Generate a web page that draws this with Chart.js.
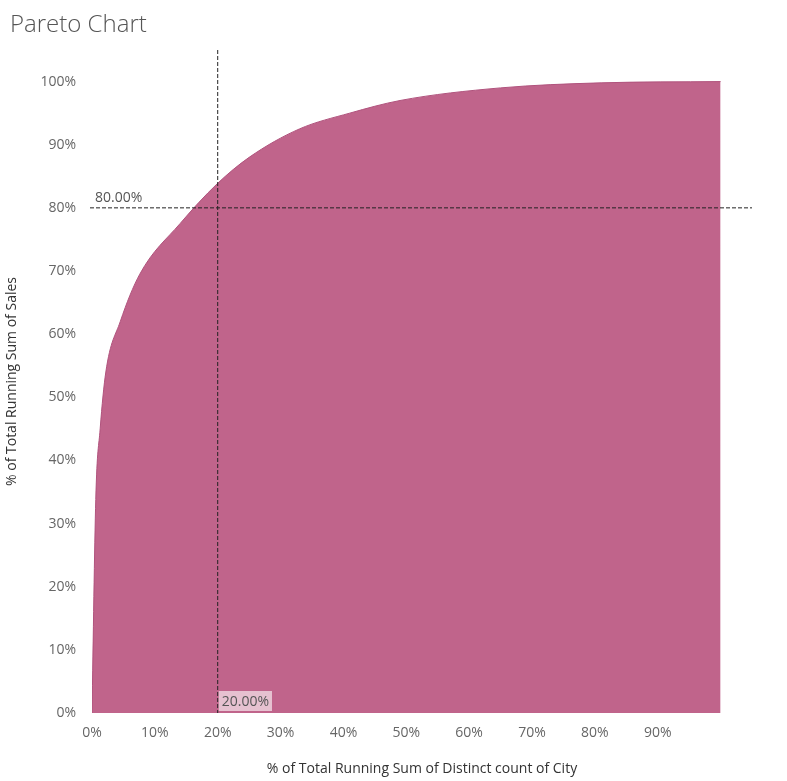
<!DOCTYPE html>
<html><head><meta charset="utf-8">
<script src="https://cdn.jsdelivr.net/npm/chart.js@4"></script>
<style>body{margin:0;background:#fff}</style>
</head><body>
<canvas id="c" width="787" height="781"></canvas>
<script>
const cityPct  = [0, 0.6, 1.3, 2.2, 4.5, 7.6, 14, 19.9, 25, 33, 41, 49, 65, 81, 100];
const salesPct = [0, 33.8, 45, 54, 62, 69.5, 77.5, 83.8, 88, 92.5, 95, 97, 99, 99.8, 100];
const refX = 20, refY = 80;
const FONT = "'Open Sans', sans-serif";

const refPlugin = {
  id: 'ref',
  afterDatasetsDraw(chart) {
    const {ctx, chartArea: a, scales: {x, y}} = chart;
    const px = x.getPixelForValue(refX), py = y.getPixelForValue(refY);
    ctx.save();
    ctx.strokeStyle = '#222'; ctx.lineWidth = 1; ctx.setLineDash([4, 2]);
    ctx.beginPath(); ctx.moveTo(px, a.top); ctx.lineTo(px, a.bottom); ctx.stroke();
    ctx.beginPath(); ctx.moveTo(a.left - 2, py); ctx.lineTo(a.right, py); ctx.stroke();
    ctx.setLineDash([]);
    ctx.font = '14px ' + FONT; ctx.textBaseline = 'bottom'; ctx.textAlign = 'left';
    ctx.fillStyle = '#555';
    ctx.fillText(refY.toFixed(2) + '%', a.left + 3, py - 3);
    const t = refX.toFixed(2) + '%'; const w = ctx.measureText(t).width;
    ctx.fillStyle = 'rgba(255,255,255,0.6)';
    ctx.fillRect(px + 1, a.bottom - 22, w + 6, 20);
    ctx.fillStyle = '#555'; ctx.textBaseline = 'middle';
    ctx.fillText(t, px + 4, a.bottom - 11);
    ctx.font = '300 24px ' + FONT; ctx.fillStyle = '#555'; ctx.textBaseline = 'middle';
    ctx.fillText('Pareto Chart', 10, 25);
    ctx.restore();
  }
};

new Chart(document.getElementById('c'), {
  type: 'line',
  data: { datasets: [{
    data: cityPct.map((v, i) => ({x: v, y: salesPct[i]})),
    fill: 'origin', backgroundColor: '#c0648b', borderColor: '#b0537d',
    borderWidth: 1, pointRadius: 0, tension: 0.4, cubicInterpolationMode: 'monotone'
  }]},
  options: {
    responsive: false, animation: false,
    layout: { padding: { top: 50, right: 35, left: 0, bottom: 0 } },
    plugins: { legend: { display: false }, tooltip: { enabled: false } },
    scales: {
      x: {
        type: 'linear', min: 0, max: 105,
        grid: { display: false }, border: { display: false },
        afterFit(s) { s.height = 68; },
        ticks: { stepSize: 10, autoSkip: false, color: '#666', font: { size: 14, family: FONT }, padding: 4,
          callback: v => (v % 10 === 0 && v <= 100) ? v + '%' : '' },
        title: { display: true, text: '% of Total Running Sum of Distinct count of City', color: '#333',
          font: { size: 14, family: FONT }, padding: { top: 6 } }
      },
      y: {
        min: 0, max: 105,
        grid: { display: false }, border: { display: false },
        afterFit(s) { s.width = 92; },
        ticks: { stepSize: 10, autoSkip: false, color: '#666', font: { size: 14, family: FONT }, padding: 8,
          callback: v => (v % 10 === 0 && v <= 100) ? v + '%' : '' },
        title: { display: true, text: '% of Total Running Sum of Sales', color: '#333',
          font: { size: 14, family: FONT }, padding: { bottom: 10 } }
      }
    }
  },
  plugins: [refPlugin]
});
</script>
</body></html>
